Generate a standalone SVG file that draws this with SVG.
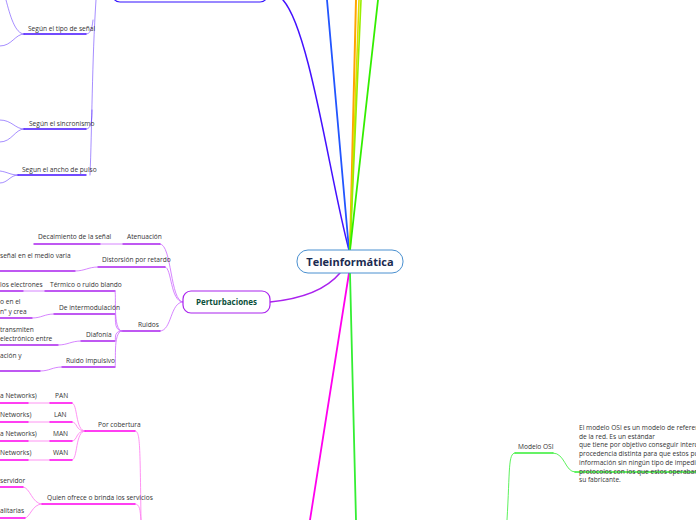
<svg xmlns="http://www.w3.org/2000/svg" width="696" height="520" viewBox="0 0 696 520">
<style>
text{font-family:"Open Sans","Liberation Sans",sans-serif;font-size:6.6px;fill:#333}
.v{stroke:#4411ff;fill:none}
.p{stroke:#aa22ee;fill:none}
.pl{stroke:#cc66ff;fill:none}
.m{stroke:#ff00ee;fill:none}
.ml{stroke:#ff77f0;fill:none}
.g{stroke:#33ee33;fill:none}
</style>
<rect width="696" height="520" fill="#fff"/>
<g id="connectors" stroke-linecap="round">
<!-- main branches -->
<path class="v" stroke-width="1.5" d="M283,0 C310,30 330,180 349,250"/>
<path d="M327,0 L349,250" stroke="#2255ff" stroke-width="1.8" fill="none"/>
<path d="M356,0 L350,250" stroke="#ffa500" stroke-width="2" fill="none"/>
<path d="M359,0 L350,250" stroke="#dddd00" stroke-width="1.6" fill="none"/>
<path d="M361,0 L350,250" stroke="#99ee00" stroke-width="1.6" fill="none"/>
<path d="M378,0 L350,250" stroke="#33ee00" stroke-width="1.8" fill="none"/>
<path class="p" stroke-width="1.5" d="M270,302 C310,298 330,285 340,273"/>
<path class="m" stroke-width="1.8" d="M349,273 L310,520"/>
<path class="g" stroke-width="1.8" d="M350,273 L356,520"/>
<!-- top-left violet -->
<path class="v" stroke-width="0.8" stroke-opacity="0.6" d="M96,0 C92,60 92,130 90,175 M93,20 C92,30 90,34 86,34 M92,110 C92,125 90,129 86,129"/>
<path class="v" stroke-width="1.4" d="M24,34 L86,34 M24,129 L86,129 M18,175 L86,175"/>
<path class="v" stroke-width="0.8" stroke-opacity="0.6" d="M24,34 C15,34 12,46 0,46 M24,34 C15,34 10,15 6,0 M24,129 C15,129 12,120 0,120 M24,129 C15,129 12,142 0,142 M18,175 C10,175 8,172 0,171 M18,175 C10,175 8,183 0,183"/>
<!-- perturbaciones -->
<path class="pl" stroke-width="0.8" d="M183,302 C170,302 172,244 160,244 M183,302 C170,302 172,267 165,267 M183,302 C170,302 172,331 160,331"/>
<path class="p" stroke-width="1.4" d="M123,244 L160,244 M98,267 L165,267 M122,331 L160,331 M34,244 L100,244 M0,271 L75,271 M45,291 L115,291 M54,314 L115,314 M81,341 L115,341 M62,367 L115,367 M0,291 L23,291 M0,318 L32,318 M0,345 L58,345 M0,371 L40,371"/>
<path class="pl" stroke-width="0.8" d="M100,244 L123,244 M75,271 C85,271 88,267 98,267 M23,291 L45,291 M32,318 C42,318 44,314 54,314 M58,345 C68,345 71,341 81,341 M40,371 C50,371 52,367 62,367 M122,331 C112,331 117,291 115,291 M122,331 C112,331 117,314 115,314 M122,331 C112,331 117,341 115,341 M122,331 C112,331 117,367 115,367"/>
<!-- magenta -->
<path class="ml" stroke-width="0.8" d="M135,431 C140,431 140,440 141,520 M135,504 C140,504 140,510 141,520 M85,431 C75,431 78,403 72,403 M85,431 C75,431 78,422 72,422 M85,431 C75,431 78,441 72,441 M85,431 C75,431 78,460 72,460 M42,504 C32,504 30,487 23,487 M42,504 C32,504 30,518 25,518 M28,403 L50,403 M28,422 L50,422 M28,441 L50,441 M28,460 L50,460"/>
<path class="m" stroke-width="1.4" d="M85,431 L135,431 M42,504 L135,504 M50,403 L72,403 M50,422 L72,422 M50,441 L72,441 M50,460 L72,460 M0,403 L28,403 M0,422 L28,422 M0,441 L28,441 M0,460 L28,460 M0,487 L23,487 M0,518 L25,518"/>
<!-- green OSI -->
<path class="g" stroke-width="0.8" d="M507,520 C510,470 508,453 515,453 M553,453 C565,453 565,472 575,472"/>
<path class="g" stroke-width="1.4" d="M515,453 L553,453 M575,472 L696,472"/>
</g>
<g id="top-node"><rect x="112" y="-20" width="156" height="22" rx="8" fill="#fff" stroke="#3311ff" stroke-width="1.2"/></g>
<g id="center"><rect x="297" y="250" width="106" height="23" rx="11" fill="#fff" stroke="#4a90d0" stroke-width="1"/><text x="350" y="265.5" text-anchor="middle" style="font-size:11px;font-weight:bold;fill:#1a2a50">Teleinformática</text></g>
<g id="perturbaciones"><rect x="183" y="291" width="87" height="22" rx="8" fill="#fff" stroke="#aa22ee" stroke-width="1.2"/><text x="226.5" y="305" text-anchor="middle" style="font-size:8px;font-weight:bold;fill:#0b4f3a">Perturbaciones</text></g>
<g id="labels">
<text x="28" y="31">Según el tipo de señal</text>
<text x="29" y="126">Según el sincronismo</text>
<text x="22" y="172">Segun el ancho de pulso</text>
<text x="38" y="239">Decaimiento de la señal</text>
<text x="127" y="239">Atenuación</text>
<text x="0" y="258">señal en el medio varia</text>
<text x="102" y="262">Distorsión por retardo</text>
<text x="0" y="287">los electrones</text>
<text x="50" y="287">Térmico o ruido blando</text>
<text x="0" y="304">o en el</text>
<text x="0" y="314">n" y crea</text>
<text x="59" y="310">De intermodulación</text>
<text x="0" y="332">transmiten</text>
<text x="0" y="341">electrónico entre</text>
<text x="86" y="337">Diafonía</text>
<text x="0" y="358">ación y</text>
<text x="66" y="363">Ruido impulsivo</text>
<text x="138" y="327">Ruidos</text>
<text x="0" y="398">a Networks)</text>
<text x="55" y="398">PAN</text>
<text x="0" y="417">Networks)</text>
<text x="54" y="417">LAN</text>
<text x="0" y="436">a Networks)</text>
<text x="53" y="436">MAN</text>
<text x="0" y="455">Networks)</text>
<text x="53" y="455">WAN</text>
<text x="98" y="427">Por cobertura</text>
<text x="0" y="483">servidor</text>
<text x="47" y="500">Quien ofrece o brinda los servicios</text>
<text x="0" y="513">alitarias</text>
<text x="518" y="449">Modelo OSI</text>
<text x="579" y="430">El modelo OSI es un modelo de referencia</text>
<text x="579" y="439">de la red. Es un estándar</text>
<text x="579" y="447"> que tiene por objetivo conseguir interconectar</text>
<text x="579" y="456">procedencia distinta para que estos pudieran</text>
<text x="579" y="465">información sin ningún tipo de impedimento</text>
<text x="579" y="474">protocolos con los que estos operaban de</text>
<text x="579" y="482">su fabricante.</text>
</g>
</svg>
